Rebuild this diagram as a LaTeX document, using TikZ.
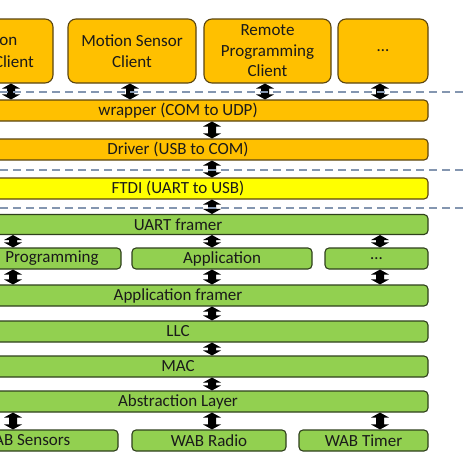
\documentclass[tikz,border=0pt]{standalone}
\usepackage{fontspec}
\setmainfont{Carlito}
\usetikzlibrary{calc}
\definecolor{gold}{HTML}{FFC000}
\definecolor{goldline}{HTML}{5A4510}
\definecolor{ftdi}{HTML}{FFFF00}
\definecolor{grn}{HTML}{92D050}
\definecolor{grnline}{HTML}{2F401C}
\definecolor{dashc}{HTML}{8496B0}
\definecolor{txt}{HTML}{1A1A1A}
\newcommand{\updown}[2]{%
  \fill[black] let \p1=(#1), \p2=(#2) in
    (\x1,\y1) -- (\x1+9pt,\y1-5pt) -- (\x1+4pt,\y1-5pt) -- (\x1+4pt,\y2+5pt)
    -- (\x1+9pt,\y2+5pt) -- (\x1,\y2) -- (\x1-9pt,\y2+5pt) -- (\x1-4pt,\y2+5pt)
    -- (\x1-4pt,\y1-5pt) -- (\x1-9pt,\y1-5pt) -- cycle;}
\begin{document}
\begin{tikzpicture}[x=1pt,y=-1pt,
  base/.style={draw, line width=1.1pt, inner sep=0pt, font=\fontsize{17}{20.5}\selectfont, align=center, text=txt},
  client/.style={base, fill=gold, draw=goldline, rounded corners=8pt},
  oband/.style={base, fill=gold, draw=goldline, rounded corners=4pt},
  yband/.style={base, fill=ftdi, draw=goldline, rounded corners=4pt},
  gband/.style={base, fill=grn, draw=grnline, rounded corners=4pt},
  lbl/.style={inner sep=0pt, font=\fontsize{17}{20.5}\selectfont, text=txt},
  sep/.style={draw=dashc, line width=1.8pt, dash pattern=on 8pt off 5pt}]
\useasboundingbox (0,0) rectangle (474,474);
\fill[white] (0,0) rectangle (474,474);
% columns
\coordinate (k0) at (11,0);
\coordinate (k1) at (130,0);
\coordinate (k2) at (265,0);
\coordinate (k3) at (380,0);
\coordinate (colL) at (13,0);
\coordinate (colM) at (212,0);
\coordinate (colR) at (380,0);
% clients
\node[client, minimum width=128pt, minimum height=64pt] (c0) at (-11,51) {};
\node[lbl, anchor=east] (c0a) at (17.5,41) {on};
\node[lbl, anchor=east] (c0b) at (34,62) {Client};
\node[client, minimum width=128pt, minimum height=64pt] (c1) at (132,51) {Motion Sensor\\Client};
\node[client, minimum width=127pt, minimum height=64pt] (c2) at (267.5,51) {Remote\\Programming\\Client};
\node[client, minimum width=90pt, minimum height=64pt] (c3) at (383,51) {…};
% bands
\node[oband, minimum width=500pt, minimum height=21pt] (wrap) at (178,110.5) {wrapper (COM to UDP)};
\node[oband, minimum width=500pt, minimum height=21pt] (drv) at (178,149.5) {Driver (USB to COM)};
\node[yband, minimum width=500pt, minimum height=21pt] (ftdi) at (178,188.5) {FTDI (UART to USB)};
\node[gband, minimum width=500pt, minimum height=20pt] (uart) at (178,224.5) {UART framer};
\node[gband, minimum width=138pt, minimum height=21pt] (prog) at (52,258.5) {Programming};
\node[gband, minimum width=180pt, minimum height=21pt] (app) at (222,258.5) {Application};
\node[gband, minimum width=103pt, minimum height=21pt] (more) at (376.5,258.5) {…};
\node[gband, minimum width=500pt, minimum height=21pt] (appfr) at (178,295.5) {Application framer};
\node[gband, minimum width=500pt, minimum height=21pt] (llc) at (178,331.5) {LLC};
\node[gband, minimum width=500pt, minimum height=21pt] (mac) at (178,366.5) {MAC};
\node[gband, minimum width=500pt, minimum height=21pt] (abs) at (178,401.5) {Abstraction Layer};
\node[gband, minimum width=186pt, minimum height=21pt] (sens) at (25,440.5) {WAB Sensors};
\node[gband, minimum width=154pt, minimum height=21pt] (radio) at (209,440.5) {WAB Radio};
\node[gband, minimum width=129pt, minimum height=21pt] (timer) at (363.5,440.5) {WAB Timer};
% arrows
\updown{c0.south -| k0}{wrap.north -| k0}
\updown{c1.south -| k1}{wrap.north -| k1}
\updown{c2.south -| k2}{wrap.north -| k2}
\updown{c3.south -| k3}{wrap.north -| k3}
\updown{wrap.south -| colM}{drv.north -| colM}
\updown{drv.south -| colM}{ftdi.north -| colM}
\updown{ftdi.south -| colM}{uart.north -| colM}
\updown{uart.south -| colL}{prog.north -| colL}
\updown{uart.south -| colM}{app.north -| colM}
\updown{uart.south -| colR}{more.north -| colR}
\updown{prog.south -| colL}{appfr.north -| colL}
\updown{app.south -| colM}{appfr.north -| colM}
\updown{more.south -| colR}{appfr.north -| colR}
\updown{appfr.south -| colM}{llc.north -| colM}
\updown{llc.south -| colM}{mac.north -| colM}
\updown{mac.south -| colM}{abs.north -| colM}
\updown{abs.south -| colL}{sens.north -| colL}
\updown{abs.south -| colM}{radio.north -| colM}
\updown{abs.south -| colR}{timer.north -| colR}
% separators
\coordinate (s1a) at (0,92);   \coordinate (s1b) at (467,92);
\coordinate (s2a) at (0,170);  \coordinate (s2b) at (467,170);
\coordinate (s3a) at (0,208);  \coordinate (s3b) at (467,208);
\draw[sep] (s1a) -- (s1b);
\draw[sep] (s2a) -- (s2b);
\draw[sep] (s3a) -- (s3b);
\end{tikzpicture}
\end{document}
